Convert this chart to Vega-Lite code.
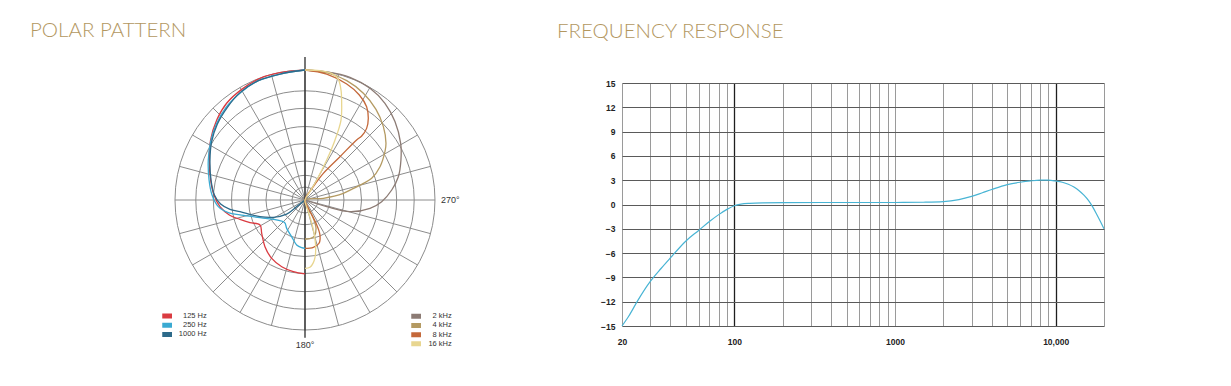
{
  "$schema": "https://vega.github.io/schema/vega-lite/v6.json",
  "padding": {"left": 30, "top": 20, "right": 20, "bottom": 10},
  "bounds": "flush",
  "spacing": 122,
  "config": {"view": {"stroke": null}, "background": "white"},
  "hconcat": [
    {
      "width": 470,
      "height": 243,
      "title": {"text": "POLAR PATTERN", "anchor": "start", "frame": "group", "offset": -1, "baseline": "alphabetic", "font": "Lato", "fontSize": 20.5, "fontWeight": 300, "color": "#B3975F"},
      "layer": [
        {
          "data": {"values": [{"r": 0.1}, {"r": 0.19}, {"r": 0.3}, {"r": 0.435}, {"r": 0.565}, {"r": 0.705}, {"r": 0.84}, {"r": 1}]},
          "mark": {"type": "point", "shape": "circle", "filled": false, "stroke": "#8c8c8c", "strokeWidth": 1, "opacity": 1},
          "encoding": {
            "x": {"datum": 0, "type": "quantitative", "scale": {"domain": [-2.11538, 1.5], "nice": false, "zero": false}, "axis": null},
            "y": {"datum": 0, "type": "quantitative", "scale": {"domain": [-0.96923, 0.9], "nice": false, "zero": false}, "axis": null},
            "size": {"field": "r", "type": "quantitative", "scale": {"type": "pow", "exponent": 2, "domain": [0, 1], "range": [0, 67600], "zero": true}, "legend": null}
          }
        },
        {
          "data": {"values": [
            {"a": 0, "x1": 0, "y1": 1, "x2": 0, "y2": -1},
            {"a": 15, "x1": 0.2588, "y1": 0.9659, "x2": -0.2588, "y2": -0.9659},
            {"a": 30, "x1": 0.5, "y1": 0.866, "x2": -0.5, "y2": -0.866},
            {"a": 45, "x1": 0.7071, "y1": 0.7071, "x2": -0.7071, "y2": -0.7071},
            {"a": 60, "x1": 0.866, "y1": 0.5, "x2": -0.866, "y2": -0.5},
            {"a": 75, "x1": 0.9659, "y1": 0.2588, "x2": -0.9659, "y2": -0.2588},
            {"a": 90, "x1": 1, "y1": 0, "x2": -1, "y2": 0},
            {"a": 105, "x1": 0.9659, "y1": -0.2588, "x2": -0.9659, "y2": 0.2588},
            {"a": 120, "x1": 0.866, "y1": -0.5, "x2": -0.866, "y2": 0.5},
            {"a": 135, "x1": 0.7071, "y1": -0.7071, "x2": -0.7071, "y2": 0.7071},
            {"a": 150, "x1": 0.5, "y1": -0.866, "x2": -0.5, "y2": 0.866},
            {"a": 165, "x1": 0.2588, "y1": -0.9659, "x2": -0.2588, "y2": 0.9659}
          ]},
          "mark": {"type": "rule", "color": "#8c8c8c", "strokeWidth": 1},
          "encoding": {
            "x": {"field": "x1", "type": "quantitative", "scale": {"domain": [-2.11538, 1.5], "nice": false, "zero": false}, "axis": null},
            "y": {"field": "y1", "type": "quantitative", "scale": {"domain": [-0.96923, 0.9], "nice": false, "zero": false}, "axis": null},
            "x2": {"field": "x2"},
            "y2": {"field": "y2"}
          }
        },
        {
          "data": {"values": [{"id": "front-rear"}]},
          "mark": {"type": "rule", "color": "#1a1a1a", "strokeWidth": 1.2},
          "encoding": {
            "x": {"datum": 0, "type": "quantitative", "scale": {"domain": [-2.11538, 1.5], "nice": false, "zero": false}, "axis": null},
            "y": {"datum": 1.1, "type": "quantitative", "scale": {"domain": [-0.96923, 0.9], "nice": false, "zero": false}, "axis": null},
            "y2": {"datum": -1.06}
          }
        },
        {
          "data": {"values": [
            {"f": "125 Hz", "i": 0, "x": 0, "y": 1},
            {"f": "125 Hz", "i": 1, "x": -0.192, "y": 0.979},
            {"f": "125 Hz", "i": 2, "x": -0.346, "y": 0.936},
            {"f": "125 Hz", "i": 3, "x": -0.487, "y": 0.851},
            {"f": "125 Hz", "i": 4, "x": -0.603, "y": 0.744},
            {"f": "125 Hz", "i": 5, "x": -0.679, "y": 0.615},
            {"f": "125 Hz", "i": 6, "x": -0.726, "y": 0.462},
            {"f": "125 Hz", "i": 7, "x": -0.736, "y": 0.308},
            {"f": "125 Hz", "i": 8, "x": -0.726, "y": 0.154},
            {"f": "125 Hz", "i": 9, "x": -0.7, "y": 0.038},
            {"f": "125 Hz", "i": 10, "x": -0.654, "y": -0.051},
            {"f": "125 Hz", "i": 11, "x": -0.582, "y": -0.115},
            {"f": "125 Hz", "i": 12, "x": -0.5, "y": -0.149},
            {"f": "125 Hz", "i": 13, "x": -0.423, "y": -0.174},
            {"f": "125 Hz", "i": 14, "x": -0.346, "y": -0.192},
            {"f": "125 Hz", "i": 15, "x": -0.333, "y": -0.256},
            {"f": "125 Hz", "i": 16, "x": -0.308, "y": -0.359},
            {"f": "125 Hz", "i": 17, "x": -0.256, "y": -0.449},
            {"f": "125 Hz", "i": 18, "x": -0.179, "y": -0.513},
            {"f": "125 Hz", "i": 19, "x": -0.09, "y": -0.551},
            {"f": "125 Hz", "i": 20, "x": 0, "y": -0.569},
            {"f": "250 Hz", "i": 0, "x": 0, "y": 1},
            {"f": "250 Hz", "i": 1, "x": -0.192, "y": 0.969},
            {"f": "250 Hz", "i": 2, "x": -0.359, "y": 0.918},
            {"f": "250 Hz", "i": 3, "x": -0.487, "y": 0.833},
            {"f": "250 Hz", "i": 4, "x": -0.603, "y": 0.718},
            {"f": "250 Hz", "i": 5, "x": -0.679, "y": 0.59},
            {"f": "250 Hz", "i": 6, "x": -0.726, "y": 0.449},
            {"f": "250 Hz", "i": 7, "x": -0.744, "y": 0.308},
            {"f": "250 Hz", "i": 8, "x": -0.738, "y": 0.154},
            {"f": "250 Hz", "i": 9, "x": -0.715, "y": 0.038},
            {"f": "250 Hz", "i": 10, "x": -0.667, "y": -0.051},
            {"f": "250 Hz", "i": 11, "x": -0.59, "y": -0.097},
            {"f": "250 Hz", "i": 12, "x": -0.5, "y": -0.115},
            {"f": "250 Hz", "i": 13, "x": -0.346, "y": -0.136},
            {"f": "250 Hz", "i": 14, "x": -0.159, "y": -0.172},
            {"f": "250 Hz", "i": 15, "x": -0.141, "y": -0.218},
            {"f": "250 Hz", "i": 16, "x": -0.103, "y": -0.282},
            {"f": "250 Hz", "i": 17, "x": -0.064, "y": -0.346},
            {"f": "250 Hz", "i": 18, "x": -0.026, "y": -0.367},
            {"f": "250 Hz", "i": 19, "x": 0, "y": -0.372},
            {"f": "1000 Hz", "i": 0, "x": 0, "y": 1},
            {"f": "1000 Hz", "i": 1, "x": -0.192, "y": 0.969},
            {"f": "1000 Hz", "i": 2, "x": -0.359, "y": 0.918},
            {"f": "1000 Hz", "i": 3, "x": -0.5, "y": 0.826},
            {"f": "1000 Hz", "i": 4, "x": -0.597, "y": 0.713},
            {"f": "1000 Hz", "i": 5, "x": -0.674, "y": 0.585},
            {"f": "1000 Hz", "i": 6, "x": -0.718, "y": 0.449},
            {"f": "1000 Hz", "i": 7, "x": -0.731, "y": 0.308},
            {"f": "1000 Hz", "i": 8, "x": -0.723, "y": 0.154},
            {"f": "1000 Hz", "i": 9, "x": -0.697, "y": 0.038},
            {"f": "1000 Hz", "i": 10, "x": -0.649, "y": -0.031},
            {"f": "1000 Hz", "i": 11, "x": -0.577, "y": -0.072},
            {"f": "1000 Hz", "i": 12, "x": -0.5, "y": -0.09},
            {"f": "1000 Hz", "i": 13, "x": -0.346, "y": -0.128},
            {"f": "1000 Hz", "i": 14, "x": -0.244, "y": -0.133},
            {"f": "1000 Hz", "i": 15, "x": -0.141, "y": -0.108},
            {"f": "1000 Hz", "i": 16, "x": -0.064, "y": -0.051},
            {"f": "1000 Hz", "i": 17, "x": 0, "y": 0}
          ]},
          "mark": {"type": "line", "interpolate": "catmull-rom", "strokeWidth": 1.3},
          "encoding": {
            "x": {"field": "x", "type": "quantitative", "scale": {"domain": [-2.11538, 1.5], "nice": false, "zero": false}, "axis": null},
            "y": {"field": "y", "type": "quantitative", "scale": {"domain": [-0.96923, 0.9], "nice": false, "zero": false}, "axis": null},
            "order": {"field": "i", "type": "quantitative"},
            "color": {
              "field": "f", "type": "nominal",
              "scale": {"domain": ["125 Hz", "250 Hz", "1000 Hz"], "range": ["#DA3B41", "#3AAAD2", "#2D6A8A"]},
              "legend": {"orient": "none", "legendX": 132.25, "legendY": 229.25, "title": null, "padding": 0, "symbolType": "M-6,0H6", "symbolSize": 4, "symbolStrokeWidth": 5, "clipHeight": 7.5, "labelAlign": "right", "labelOffset": 37, "labelFont": "Liberation Sans", "labelFontSize": 7.5, "labelColor": "#333333", "rowPadding": 0.2}
            }
          }
        },
        {
          "data": {"values": [
            {"f": "2 kHz", "i": 0, "x": 0, "y": 1},
            {"f": "2 kHz", "i": 1, "x": 0.167, "y": 0.985},
            {"f": "2 kHz", "i": 2, "x": 0.346, "y": 0.944},
            {"f": "2 kHz", "i": 3, "x": 0.5, "y": 0.859},
            {"f": "2 kHz", "i": 4, "x": 0.615, "y": 0.744},
            {"f": "2 kHz", "i": 5, "x": 0.692, "y": 0.603},
            {"f": "2 kHz", "i": 6, "x": 0.736, "y": 0.436},
            {"f": "2 kHz", "i": 7, "x": 0.738, "y": 0.308},
            {"f": "2 kHz", "i": 8, "x": 0.718, "y": 0.179},
            {"f": "2 kHz", "i": 9, "x": 0.667, "y": 0.077},
            {"f": "2 kHz", "i": 10, "x": 0.59, "y": -0.013},
            {"f": "2 kHz", "i": 11, "x": 0.5, "y": -0.064},
            {"f": "2 kHz", "i": 12, "x": 0.346, "y": -0.09},
            {"f": "2 kHz", "i": 13, "x": 0.167, "y": -0.051},
            {"f": "2 kHz", "i": 14, "x": 0, "y": 0},
            {"f": "4 kHz", "i": 0, "x": 0, "y": 1},
            {"f": "4 kHz", "i": 1, "x": 0.167, "y": 0.979},
            {"f": "4 kHz", "i": 2, "x": 0.321, "y": 0.918},
            {"f": "4 kHz", "i": 3, "x": 0.449, "y": 0.821},
            {"f": "4 kHz", "i": 4, "x": 0.546, "y": 0.697},
            {"f": "4 kHz", "i": 5, "x": 0.603, "y": 0.564},
            {"f": "4 kHz", "i": 6, "x": 0.623, "y": 0.436},
            {"f": "4 kHz", "i": 7, "x": 0.615, "y": 0.372},
            {"f": "4 kHz", "i": 8, "x": 0.577, "y": 0.256},
            {"f": "4 kHz", "i": 9, "x": 0.513, "y": 0.167},
            {"f": "4 kHz", "i": 10, "x": 0.449, "y": 0.128},
            {"f": "4 kHz", "i": 11, "x": 0.359, "y": 0.082},
            {"f": "4 kHz", "i": 12, "x": 0.295, "y": 0.051},
            {"f": "4 kHz", "i": 13, "x": 0.141, "y": 0.013},
            {"f": "4 kHz", "i": 14, "x": 0, "y": 0},
            {"f": "4 kHz", "i": 15, "x": 0.018, "y": -0.051},
            {"f": "4 kHz", "i": 16, "x": 0.059, "y": -0.128},
            {"f": "4 kHz", "i": 17, "x": 0.085, "y": -0.218},
            {"f": "4 kHz", "i": 18, "x": 0.072, "y": -0.277},
            {"f": "4 kHz", "i": 19, "x": 0.038, "y": -0.297},
            {"f": "4 kHz", "i": 20, "x": 0, "y": -0.3},
            {"f": "8 kHz", "i": 0, "x": 0, "y": 1},
            {"f": "8 kHz", "i": 1, "x": 0.167, "y": 0.969},
            {"f": "8 kHz", "i": 2, "x": 0.321, "y": 0.892},
            {"f": "8 kHz", "i": 3, "x": 0.418, "y": 0.808},
            {"f": "8 kHz", "i": 4, "x": 0.474, "y": 0.718},
            {"f": "8 kHz", "i": 5, "x": 0.487, "y": 0.628},
            {"f": "8 kHz", "i": 6, "x": 0.474, "y": 0.551},
            {"f": "8 kHz", "i": 7, "x": 0.436, "y": 0.492},
            {"f": "8 kHz", "i": 8, "x": 0.397, "y": 0.462},
            {"f": "8 kHz", "i": 9, "x": 0.269, "y": 0.333},
            {"f": "8 kHz", "i": 10, "x": 0.141, "y": 0.205},
            {"f": "8 kHz", "i": 11, "x": 0.064, "y": 0.103},
            {"f": "8 kHz", "i": 12, "x": 0, "y": 0},
            {"f": "8 kHz", "i": 13, "x": 0.026, "y": -0.064},
            {"f": "8 kHz", "i": 14, "x": 0.085, "y": -0.179},
            {"f": "8 kHz", "i": 15, "x": 0.115, "y": -0.269},
            {"f": "8 kHz", "i": 16, "x": 0.108, "y": -0.333},
            {"f": "8 kHz", "i": 17, "x": 0.064, "y": -0.364},
            {"f": "8 kHz", "i": 18, "x": 0, "y": -0.372},
            {"f": "16 kHz", "i": 0, "x": 0, "y": 1},
            {"f": "16 kHz", "i": 1, "x": 0.115, "y": 0.995},
            {"f": "16 kHz", "i": 2, "x": 0.205, "y": 0.974},
            {"f": "16 kHz", "i": 3, "x": 0.256, "y": 0.928},
            {"f": "16 kHz", "i": 4, "x": 0.277, "y": 0.846},
            {"f": "16 kHz", "i": 5, "x": 0.282, "y": 0.744},
            {"f": "16 kHz", "i": 6, "x": 0.277, "y": 0.615},
            {"f": "16 kHz", "i": 7, "x": 0.231, "y": 0.462},
            {"f": "16 kHz", "i": 8, "x": 0.167, "y": 0.308},
            {"f": "16 kHz", "i": 9, "x": 0.09, "y": 0.154},
            {"f": "16 kHz", "i": 10, "x": 0.038, "y": 0.064},
            {"f": "16 kHz", "i": 11, "x": 0, "y": 0},
            {"f": "16 kHz", "i": 12, "x": 0.021, "y": -0.077},
            {"f": "16 kHz", "i": 13, "x": 0.059, "y": -0.205},
            {"f": "16 kHz", "i": 14, "x": 0.082, "y": -0.359},
            {"f": "16 kHz", "i": 15, "x": 0.072, "y": -0.462},
            {"f": "16 kHz", "i": 16, "x": 0.038, "y": -0.518},
            {"f": "16 kHz", "i": 17, "x": 0, "y": -0.526}
          ]},
          "mark": {"type": "line", "interpolate": "catmull-rom", "strokeWidth": 1.3},
          "encoding": {
            "x": {"field": "x", "type": "quantitative", "scale": {"domain": [-2.11538, 1.5], "nice": false, "zero": false}, "axis": null},
            "y": {"field": "y", "type": "quantitative", "scale": {"domain": [-0.96923, 0.9], "nice": false, "zero": false}, "axis": null},
            "order": {"field": "i", "type": "quantitative"},
            "color": {
              "field": "f", "type": "nominal",
              "scale": {"domain": ["2 kHz", "4 kHz", "8 kHz", "16 kHz"], "range": ["#8C7B74", "#B49A62", "#C4683A", "#E8D690"]},
              "legend": {"orient": "none", "legendX": 381.25, "legendY": 229.5, "title": null, "padding": 0, "symbolType": "M-6,0H6", "symbolSize": 4, "symbolStrokeWidth": 5, "clipHeight": 7.5, "labelAlign": "right", "labelOffset": 33, "labelFont": "Liberation Sans", "labelFontSize": 7.5, "labelColor": "#333333", "rowPadding": 0.2}
            }
          }
        },
        {
          "data": {"values": [{"label": "270°"}]},
          "mark": {"type": "text", "align": "left", "baseline": "middle", "font": "Liberation Sans", "fontSize": 9, "color": "#333333"},
          "encoding": {
            "x": {"datum": 1.046, "type": "quantitative", "scale": {"domain": [-2.11538, 1.5], "nice": false, "zero": false}, "axis": null},
            "y": {"datum": 0, "type": "quantitative", "scale": {"domain": [-0.96923, 0.9], "nice": false, "zero": false}, "axis": null},
            "text": {"field": "label"}
          }
        },
        {
          "data": {"values": [{"label": "180°"}]},
          "mark": {"type": "text", "align": "center", "baseline": "middle", "font": "Liberation Sans", "fontSize": 9, "color": "#333333"},
          "encoding": {
            "x": {"datum": 0, "type": "quantitative", "scale": {"domain": [-2.11538, 1.5], "nice": false, "zero": false}, "axis": null},
            "y": {"datum": -1.112, "type": "quantitative", "scale": {"domain": [-0.96923, 0.9], "nice": false, "zero": false}, "axis": null},
            "text": {"field": "label"}
          }
        }
      ],
      "resolve": {"scale": {"color": "independent"}, "legend": {"color": "independent"}}
    },
    {
      "width": 482,
      "height": 243,
      "title": {"text": "FREQUENCY RESPONSE", "anchor": "start", "frame": "group", "offset": 21, "dx": -65, "baseline": "alphabetic", "font": "Lato", "fontSize": 20.5, "fontWeight": 300, "color": "#B3975F"},
      "data": {"values": [
        {"hz": 20, "db": -15}, {"hz": 22, "db": -13.8}, {"hz": 25, "db": -11.9}, {"hz": 30, "db": -9.5},
        {"hz": 35, "db": -7.9}, {"hz": 40, "db": -6.6}, {"hz": 50, "db": -4.5}, {"hz": 60, "db": -3.2},
        {"hz": 70, "db": -2.1}, {"hz": 80, "db": -1.25}, {"hz": 90, "db": -0.6}, {"hz": 100, "db": -0.15},
        {"hz": 110, "db": 0.05}, {"hz": 125, "db": 0.15}, {"hz": 150, "db": 0.2}, {"hz": 200, "db": 0.22},
        {"hz": 500, "db": 0.25}, {"hz": 1000, "db": 0.25}, {"hz": 1500, "db": 0.28}, {"hz": 2000, "db": 0.35},
        {"hz": 2500, "db": 0.6}, {"hz": 3000, "db": 1.0}, {"hz": 3500, "db": 1.45}, {"hz": 4000, "db": 1.85},
        {"hz": 5000, "db": 2.45}, {"hz": 6000, "db": 2.75}, {"hz": 7000, "db": 2.92}, {"hz": 8000, "db": 3.0},
        {"hz": 9000, "db": 3.0}, {"hz": 10000, "db": 2.9}, {"hz": 11000, "db": 2.75}, {"hz": 12000, "db": 2.5},
        {"hz": 13000, "db": 2.15}, {"hz": 14000, "db": 1.7}, {"hz": 15000, "db": 1.15}, {"hz": 16000, "db": 0.5},
        {"hz": 17000, "db": -0.3}, {"hz": 18000, "db": -1.2}, {"hz": 19000, "db": -2.1}, {"hz": 20000, "db": -3.0}
      ]},
      "mark": {"type": "line", "interpolate": "monotone", "color": "#48B4D4", "strokeWidth": 1.2},
      "encoding": {
        "x": {
          "field": "hz", "type": "quantitative",
          "scale": {"type": "log", "domain": [20, 20000], "nice": false},
          "axis": {
            "title": null, "domain": false, "ticks": false, "grid": true,
            "values": [20, 30, 40, 50, 60, 70, 80, 90, 100, 200, 300, 400, 500, 600, 700, 800, 900, 1000, 2000, 3000, 4000, 5000, 6000, 7000, 8000, 9000, 10000, 20000],
            "gridColor": {"condition": {"test": "datum.value == 100 || datum.value == 10000", "value": "#1e1e1e"}, "value": "#9a9a9a"},
            "gridWidth": {"condition": {"test": "datum.value == 100 || datum.value == 10000", "value": 1.3}, "value": 1},
            "labelExpr": "datum.value == 20 ? '20' : datum.value == 100 ? '100' : datum.value == 1000 ? '1000' : datum.value == 10000 ? '10,000' : ''",
            "labelOverlap": false, "labelBound": false, "labelFlush": false,
            "labelFont": "Liberation Sans", "labelFontSize": 8.5, "labelFontWeight": "bold", "labelColor": "#222222", "labelPadding": 11
          }
        },
        "y": {
          "field": "db", "type": "quantitative",
          "scale": {"domain": [-15, 15], "nice": false},
          "axis": {
            "title": null, "domain": false, "ticks": false, "grid": true,
            "values": [-15, -12, -9, -6, -3, 0, 3, 6, 9, 12, 15],
            "gridColor": "#5a5a5a", "gridWidth": 1,
            "labelOverlap": false, "labelBound": false, "labelFlush": false,
            "labelFont": "Liberation Sans", "labelFontSize": 8.5, "labelFontWeight": "bold", "labelColor": "#222222", "labelPadding": 7
          }
        }
      }
    }
  ]
}
